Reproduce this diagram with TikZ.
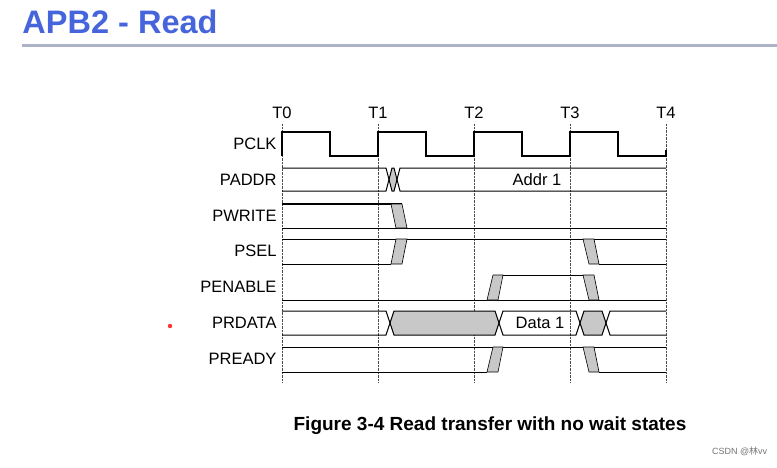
\documentclass[tikz,border=0pt]{standalone}
\usepackage{fontspec}
\setmainfont{Liberation Sans}
\newfontfamily\cjk{Noto Sans CJK SC}
\usetikzlibrary{positioning}
\definecolor{titleblue}{RGB}{70,100,220}
\definecolor{rulegray}{RGB}{172,178,200}
\definecolor{slopegray}{RGB}{200,200,200}
\begin{document}
\begin{tikzpicture}[x=1pt,y=-1pt,line width=1pt,
		sig/.style={anchor=east,font=\fontsize{16.5}{18}\selectfont},
		tick/.style={font=\fontsize{16.5}{18}\selectfont},
		gate/.style={fill=slopegray,draw=black,semithick},
		grid/.style={densely dotted,thin,black!70}]
		\useasboundingbox (0,0) rectangle (777,467);
		
		% title and rule
		\node[anchor=base west,inner sep=0pt,text=titleblue,font=\fontsize{32.5}{34}\selectfont\bfseries] (title) at (22,33) {APB2 - Read};
		\draw[rulegray,line width=3pt] (22,45) -- (777,45);
		
		% time marks
		\foreach \t/\x in {0/282,1/378,2/474,3/570,4/666} {
			\node[tick] (t\t) at (\x,113) {T\t};
			\draw[grid] (\x,124) -- (\x,382);
		}
		
		% signal names
		\foreach \n/\y in {PCLK/144,PADDR/180,PWRITE/216,PSEL/251,PENABLE/287,PRDATA/323,PREADY/359}
			\node[sig,inner sep=2pt] (\n) at (279,\y) {\n};
		
		% PCLK
		\draw[line width=1.6pt] (282,156) -- (282,132) -- (330,132) -- (330,156) -- (378,156) -- (378,132)
			-- (426,132) -- (426,156) -- (474,156) -- (474,132) -- (522,132) -- (522,156)
			-- (570,156) -- (570,132) -- (618,132) -- (618,156) -- (666,156) -- (666,150);
		
		% PADDR
		\fill[slopegray] (389,180) -- (392,168) -- (394,168) -- (397,180) -- (394,191) -- (392,191) -- cycle;
		\draw (282,168) -- (386,168) -- (392,191) -- (394,191) -- (400,168) -- (666,168);
		\draw (282,191) -- (386,191) -- (392,168) -- (394,168) -- (400,191) -- (666,191);
		\node[tick] (addr) at (537,180) {Addr 1};
		
		% PWRITE
		\draw[line width=1.6pt] (282,204) -- (402,204);
		\draw (282,228) -- (666,228);
		\draw[gate] (391,204) -- (402,204) -- (407,228) -- (396,228) -- cycle;
		
		% PSEL
		\draw (282,239) -- (666,239);
		\draw (282,264) -- (391,264);
		\draw[gate] (391,264) -- (402,264) -- (407,239) -- (396,239) -- cycle;
		\draw[gate] (583,239) -- (594,239) -- (599,264) -- (589,264) -- cycle;
		\draw (599,264) -- (666,264);
		
		% PENABLE
		\draw (282,300) -- (666,300);
		\draw[gate] (487,300) -- (498,300) -- (503,275) -- (493,275) -- cycle;
		\draw (503,275) -- (594,275);
		\draw[gate] (583,275) -- (594,275) -- (599,300) -- (589,300) -- cycle;
		
		% PRDATA
		\fill[slopegray] (390,323) -- (394,311) -- (495,311) -- (499,323) -- (495,335) -- (394,335) -- cycle;
		\fill[slopegray] (580,323) -- (584,311) -- (602,311) -- (606,323) -- (602,335) -- (584,335) -- cycle;
		\draw (282,311) -- (386,311) -- (394,335) -- (495,335) -- (503,311) -- (576,311) -- (584,335) -- (602,335) -- (610,311) -- (666,311);
		\draw (282,335) -- (386,335) -- (394,311) -- (495,311) -- (503,335) -- (576,335) -- (584,311) -- (602,311) -- (610,335) -- (666,335);
		\node[tick] (data) at (540,323) {Data 1};
		
		% PREADY
		\draw (282,347) -- (666,347);
		\draw (282,372) -- (487,372);
		\draw[gate] (487,372) -- (498,372) -- (503,347) -- (493,347) -- cycle;
		\draw[gate] (583,347) -- (594,347) -- (599,372) -- (589,372) -- cycle;
		\draw (599,372) -- (666,372);
		
		% marker dot, caption, watermark
		\fill[red!80] (170,326) circle (2.2);
		\node[font=\fontsize{19}{21}\selectfont\bfseries] (caption) at (490,426) {Figure 3-4 Read transfer with no wait states};
		\node[anchor=east,text=black!55,font=\fontsize{9}{10}\selectfont] (mark) at (771,451) {CSDN @{\cjk 林}vv};
\end{tikzpicture}
\end{document}
